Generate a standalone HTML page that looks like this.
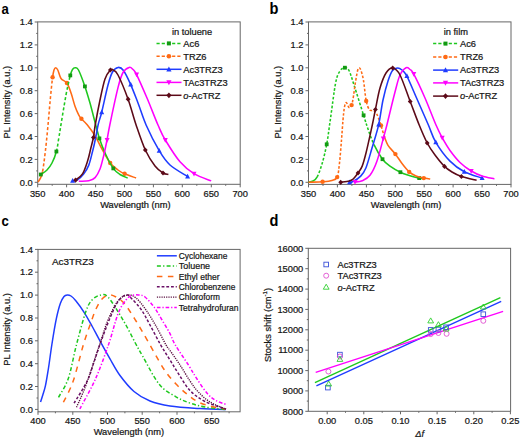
<!DOCTYPE html><html><head><meta charset="utf-8"><style>html,body{margin:0;padding:0;background:#fff;width:521px;height:439px;overflow:hidden}</style></head><body><svg width="521" height="439" viewBox="0 0 521 439" style="display:block;font-family:'Liberation Sans',sans-serif">
<style>text{stroke:#151515;stroke-width:0.22px;paint-order:normal}</style>
<rect width="521" height="439" fill="#fff"/>
<text transform="translate(1.6,14.1) scale(0.86,1)" font-size="15.3" font-weight="bold" fill="#000" style="stroke:none">a</text>
<text transform="translate(269.5,13.9) scale(0.88,1)" font-size="16.6" font-weight="bold" fill="#000" style="stroke:none">b</text>
<text transform="translate(1.5,226.3) scale(0.86,1)" font-size="15.3" font-weight="bold" fill="#000" style="stroke:none">c</text>
<text transform="translate(269.5,226.3) scale(0.88,1)" font-size="16.6" font-weight="bold" fill="#000" style="stroke:none">d</text>
<rect x="37.7" y="21.9" width="202.5" height="162.4" fill="none" stroke="#666" stroke-width="1"/>
<text x="32.7" y="185.5" font-size="9.3" text-anchor="end" fill="#151515" >0.0</text>
<text x="32.7" y="162.6" font-size="9.3" text-anchor="end" fill="#151515" >0.2</text>
<text x="32.7" y="139.7" font-size="9.3" text-anchor="end" fill="#151515" >0.4</text>
<text x="32.7" y="116.8" font-size="9.3" text-anchor="end" fill="#151515" >0.6</text>
<text x="32.7" y="93.9" font-size="9.3" text-anchor="end" fill="#151515" >0.8</text>
<text x="32.7" y="71" font-size="9.3" text-anchor="end" fill="#151515" >1.0</text>
<text x="32.7" y="48.1" font-size="9.3" text-anchor="end" fill="#151515" >1.2</text>
<text x="32.7" y="25.2" font-size="9.3" text-anchor="end" fill="#151515" >1.4</text>
<text x="37.7" y="196.8" font-size="9.3" text-anchor="middle" fill="#151515" >350</text>
<text x="66.6" y="196.8" font-size="9.3" text-anchor="middle" fill="#151515" >400</text>
<text x="95.6" y="196.8" font-size="9.3" text-anchor="middle" fill="#151515" >450</text>
<text x="124.5" y="196.8" font-size="9.3" text-anchor="middle" fill="#151515" >500</text>
<text x="153.4" y="196.8" font-size="9.3" text-anchor="middle" fill="#151515" >550</text>
<text x="182.3" y="196.8" font-size="9.3" text-anchor="middle" fill="#151515" >600</text>
<text x="211.3" y="196.8" font-size="9.3" text-anchor="middle" fill="#151515" >650</text>
<text x="240.2" y="196.8" font-size="9.3" text-anchor="middle" fill="#151515" >700</text>
<path d="M34.7,182.3H37.7 M36.2,170.9H37.7 M34.7,159.4H37.7 M36.2,147.9H37.7 M34.7,136.5H37.7 M36.2,125.1H37.7 M34.7,113.6H37.7 M36.2,102.2H37.7 M34.7,90.7H37.7 M36.2,79.3H37.7 M34.7,67.8H37.7 M36.2,56.3H37.7 M34.7,44.9H37.7 M36.2,33.4H37.7 M34.7,22H37.7 M37.7,184.3V187.3 M66.6,184.3V187.3 M95.6,184.3V187.3 M124.5,184.3V187.3 M153.4,184.3V187.3 M182.3,184.3V187.3 M211.3,184.3V187.3 M240.2,184.3V187.3 M52.2,184.3V185.8 M81.1,184.3V185.8 M110,184.3V185.8 M139,184.3V185.8 M167.9,184.3V185.8 M196.8,184.3V185.8 M225.7,184.3V185.8" stroke="#666" stroke-width="1" fill="none"/>
<text transform="translate(10.2,102.2) rotate(-90)" font-size="9.3" text-anchor="middle" fill="#151515">PL Intensity (a.u.)</text>
<text x="135.4" y="207.6" font-size="9.3" text-anchor="middle" fill="#151515" >Wavelength (nm)</text>
<path d="M38,182 C38.4,181.4 39.5,180.2 40.3,178.4 C41.1,176.7 41.7,176.2 42.6,171.5" stroke="#ff6a14" stroke-width="1.55" fill="none" stroke-linejoin="round"/>
<path d="M42.6,171.5 C43.5,166.8 44.5,158.5 45.5,150 C46.5,141.5 47.6,129.5 48.4,120.7 C49.2,111.9 49.8,104.2 50.5,97 C51.2,89.8 52,81.7 52.6,77.2" stroke="#ff6a14" stroke-width="1.55" fill="none" stroke-dasharray="3,2.2" stroke-linejoin="round"/>
<path d="M52.6,77.2 C53.2,72.7 53.5,71.6 54,70 C54.5,68.4 55.1,67.7 55.7,67.7 C56.3,67.7 56.9,68.2 57.8,70 C58.7,71.8 59.5,76.3 61,78.5 C62.5,80.7 65.2,80.5 66.9,83 C68.6,85.5 70,89.9 71.3,93.8 C72.6,97.7 73.8,102.8 75,106.3 C76.2,109.8 77.7,113 78.8,115.1 C79.9,117.2 80,117.2 81.4,118.8 C82.8,120.4 85,122 87.2,124.8 C89.4,127.6 92.3,131.4 94.8,135.4 C97.3,139.4 99.4,144.4 102,149 C104.6,153.6 107.5,159.5 110.2,163 C112.9,166.5 115.6,168.2 118,170 C120.4,171.8 121.6,172.5 124.6,173.8 C127.6,175.1 134.2,177.3 136.1,178" stroke="#ff6a14" stroke-width="1.55" fill="none" stroke-linejoin="round"/>
<circle cx="52.6" cy="77.2" r="2.2" fill="#ff6a14"/>
<circle cx="66.9" cy="83" r="2.2" fill="#ff6a14"/>
<circle cx="81.4" cy="118.8" r="2.2" fill="#ff6a14"/>
<circle cx="110.2" cy="163" r="2.2" fill="#ff6a14"/>
<circle cx="124.6" cy="173.8" r="2.2" fill="#ff6a14"/>
<path d="M40.8,174.5 C41.8,173.8 45.1,171.9 47,170 C48.9,168.1 50.4,166.1 52,163 C53.6,159.9 55.3,155.7 56.4,151.5" stroke="#1ec81e" stroke-width="1.55" fill="none" stroke-linejoin="round"/>
<path d="M56.4,151.5 C57.5,147.3 58,142.5 58.8,138 C59.6,133.5 59.8,131.7 61,124.5 C62.2,117.3 64.5,103.2 66,95 C67.5,86.8 69.2,79.7 70.3,75.4" stroke="#1ec81e" stroke-width="1.55" fill="none" stroke-dasharray="3,2.2" stroke-linejoin="round"/>
<path d="M70.3,75.4 C71.4,71.2 71.7,70.8 72.5,69.5 C73.3,68.2 74.3,67.6 75.3,67.7 C76.3,67.8 76.9,66.9 78.5,70 C80.1,73.1 83,80.9 84.9,86.4 C86.8,91.9 88.2,96.7 90,103 C91.8,109.3 94,118.6 95.6,124.5 C97.2,130.4 97.7,133.3 99.4,138.4 C101.1,143.5 103.7,150 106,155 C108.3,160 111,165.2 113.3,168.4 C115.6,171.7 117.6,172.9 120,174.5 C122.4,176.1 126.4,177.4 127.7,178" stroke="#1ec81e" stroke-width="1.55" fill="none" stroke-linejoin="round"/>
<rect x="38.9" y="172.6" width="3.8" height="3.8" fill="#129a12"/>
<rect x="54.5" y="149.6" width="3.8" height="3.8" fill="#129a12"/>
<rect x="68.4" y="73.5" width="3.8" height="3.8" fill="#129a12"/>
<rect x="83" y="84.5" width="3.8" height="3.8" fill="#129a12"/>
<rect x="97.5" y="136.5" width="3.8" height="3.8" fill="#129a12"/>
<rect x="111.4" y="166.5" width="3.8" height="3.8" fill="#129a12"/>
<path d="M72.6,180.8 C73.4,180.7 75.6,181.1 77.5,179.9 C79.4,178.8 81.9,176.4 83.8,173.9 C85.7,171.4 87.3,168.9 88.8,165.1 C90.3,161.3 91.4,155.9 92.6,151.3 C93.8,146.7 94.8,142.1 95.7,137.5 C96.7,132.9 97.3,128.2 98.3,124 C99.3,119.8 100.1,118.7 101.7,112.2 C103.3,105.7 106.2,91.7 108,85 C109.8,78.3 110.8,74.9 112.5,72 C114.2,69.1 116.3,67.7 118.1,67.4 C119.9,67.2 121.4,67.6 123.5,70.5 C125.6,73.4 128.3,79.2 130.7,84.6 C133.1,90 135.4,96.3 138,103 C140.6,109.7 142.6,117 146.1,125 C149.6,132.9 155.2,144 159.2,150.7 C163.2,157.4 165.3,160.7 170,165 C174.7,169.3 184.7,174.6 187.6,176.5" stroke="#1f3cff" stroke-width="1.55" fill="none" stroke-linejoin="round"/>
<path d="M72.6,177.9L75.1,182.7L70.1,182.7Z" fill="#1f3cff"/>
<path d="M101.7,109.5L104.2,114.2L99.2,114.2Z" fill="#1f3cff"/>
<path d="M130.7,81.8L133.2,86.6L128.2,86.6Z" fill="#1f3cff"/>
<path d="M159.2,147.9L161.7,152.7L156.7,152.7Z" fill="#1f3cff"/>
<path d="M187.6,173.8L190.1,178.5L185.1,178.5Z" fill="#1f3cff"/>
<path d="M78.8,181.2 C80.5,181.1 86.1,181.4 88.8,180.8 C91.5,180.2 93.2,179.6 95.1,177.6 C97,175.6 98.6,172.6 100.1,168.8 C101.5,165.1 102.6,159.9 103.8,155.1 C105,150.3 106,145 107,140 C108,135 108,133.7 109.8,125 C111.6,116.3 115.8,96.3 118,87.6 C120.2,78.8 121.1,75.9 123,72.5 C124.9,69.1 127.5,67.9 129.2,67.4 C130.9,66.9 131.8,68.3 133,69.5 C134.2,70.7 134.3,69.8 136.6,74.6 C138.9,79.3 143.4,89.6 147,98 C150.6,106.4 154.9,118 158,125 C161.1,132 161.6,133.9 165.3,140 C169,146.1 175.2,156.2 180,161.8 C184.8,167.4 188.8,170.5 194,173.7 C199.2,176.9 208.3,179.7 211.2,180.9" stroke="#ff00ff" stroke-width="1.55" fill="none" stroke-linejoin="round"/>
<path d="M107.1,142.8L109.6,138L104.6,138Z" fill="#ff00ff"/>
<path d="M136.6,77.3L139.1,72.6L134.1,72.6Z" fill="#ff00ff"/>
<path d="M165.3,142.8L167.8,138L162.8,138Z" fill="#ff00ff"/>
<path d="M194,176.4L196.5,171.7L191.5,171.7Z" fill="#ff00ff"/>
<path d="M75.6,180.1 C76.8,179.1 80.5,177 82.5,173.9 C84.5,170.8 86.1,165.5 87.5,161.3 C88.9,157.1 89.7,152.8 90.7,148.8 C91.7,144.8 92.6,141.6 93.4,137.5 C94.2,133.4 94.2,130.8 95.3,124.5 C96.4,118.2 98.4,107.6 100,100 C101.6,92.4 103.3,84 105,79 C106.7,74 109.1,71.5 110.4,70 C111.7,68.5 111.7,69 113,69.8 C114.3,70.6 115.5,70.1 118,75 C120.5,79.9 125.1,90.9 128.1,99.2 C131.1,107.5 133.2,116.5 136.1,125 C139,133.5 142.2,143.2 145.3,150 C148.5,156.8 152.1,162.2 155,166 C157.9,169.8 160.8,171.6 163,173 C165.2,174.4 167.5,174.2 168.4,174.5" stroke="#5c0a18" stroke-width="1.55" fill="none" stroke-linejoin="round"/>
<path d="M75.6,177.5L78,180.1L75.6,182.7L73.2,180.1Z" fill="#5c0a18"/>
<path d="M93.4,134.9L95.8,137.5L93.4,140.1L91,137.5Z" fill="#5c0a18"/>
<path d="M110.4,67.4L112.8,70L110.4,72.6L108,70Z" fill="#5c0a18"/>
<path d="M128.1,96.6L130.5,99.2L128.1,101.8L125.7,99.2Z" fill="#5c0a18"/>
<path d="M145.3,147.4L147.7,150L145.3,152.6L142.9,150Z" fill="#5c0a18"/>
<path d="M163,170.4L165.4,173L163,175.6L160.6,173Z" fill="#5c0a18"/>
<text x="171.9" y="34.6" font-size="9.3" text-anchor="start" fill="#151515" >in toluene</text>
<path d="M156.5,43.4H181.5" stroke="#1ec81e" stroke-width="1.5" stroke-dasharray="3.2,2"/>
<rect x="166.9" y="41.4" width="4" height="4" fill="#129a12"/>
<text x="183.3" y="46.7" font-size="9.3" text-anchor="start" fill="#151515" >Ac6</text>
<path d="M156.5,56.2H181.5" stroke="#ff6a14" stroke-width="1.5" stroke-dasharray="3.2,2"/>
<circle cx="168.9" cy="56.2" r="2.3" fill="#ff6a14"/>
<text x="183.3" y="59.5" font-size="9.3" text-anchor="start" fill="#151515" >TRZ6</text>
<path d="M156.5,69.3H181.5" stroke="#1f3cff" stroke-width="1.5"/>
<path d="M168.9,66.4L171.5,71.4L166.3,71.4Z" fill="#1f3cff"/>
<text x="183.3" y="72.6" font-size="9.3" text-anchor="start" fill="#151515" >Ac3TRZ3</text>
<path d="M156.5,82.4H181.5" stroke="#ff00ff" stroke-width="1.5"/>
<path d="M168.9,85.3L171.5,80.3L166.3,80.3Z" fill="#ff00ff"/>
<text x="183.3" y="85.7" font-size="9.3" text-anchor="start" fill="#151515" >TAc3TRZ3</text>
<path d="M156.5,95.3H181.5" stroke="#5c0a18" stroke-width="1.5"/>
<path d="M168.9,92.4L171.5,95.3L168.9,98.2L166.3,95.3Z" fill="#5c0a18"/>
<text x="183.3" y="98.6" font-size="9.3" fill="#151515"><tspan font-style="italic">o</tspan>-AcTRZ</text>
<rect x="308.5" y="21.9" width="202.5" height="162.5" fill="none" stroke="#666" stroke-width="1"/>
<text x="303.5" y="185.5" font-size="9.3" text-anchor="end" fill="#151515" >0.0</text>
<text x="303.5" y="162.6" font-size="9.3" text-anchor="end" fill="#151515" >0.2</text>
<text x="303.5" y="139.7" font-size="9.3" text-anchor="end" fill="#151515" >0.4</text>
<text x="303.5" y="116.8" font-size="9.3" text-anchor="end" fill="#151515" >0.6</text>
<text x="303.5" y="93.9" font-size="9.3" text-anchor="end" fill="#151515" >0.8</text>
<text x="303.5" y="71" font-size="9.3" text-anchor="end" fill="#151515" >1.0</text>
<text x="303.5" y="48.1" font-size="9.3" text-anchor="end" fill="#151515" >1.2</text>
<text x="303.5" y="25.2" font-size="9.3" text-anchor="end" fill="#151515" >1.4</text>
<text x="308.5" y="196.8" font-size="9.3" text-anchor="middle" fill="#151515" >350</text>
<text x="337.4" y="196.8" font-size="9.3" text-anchor="middle" fill="#151515" >400</text>
<text x="366.4" y="196.8" font-size="9.3" text-anchor="middle" fill="#151515" >450</text>
<text x="395.3" y="196.8" font-size="9.3" text-anchor="middle" fill="#151515" >500</text>
<text x="424.2" y="196.8" font-size="9.3" text-anchor="middle" fill="#151515" >550</text>
<text x="453.1" y="196.8" font-size="9.3" text-anchor="middle" fill="#151515" >600</text>
<text x="482.1" y="196.8" font-size="9.3" text-anchor="middle" fill="#151515" >650</text>
<text x="511" y="196.8" font-size="9.3" text-anchor="middle" fill="#151515" >700</text>
<path d="M305.5,182.3H308.5 M307,170.9H308.5 M305.5,159.4H308.5 M307,147.9H308.5 M305.5,136.5H308.5 M307,125.1H308.5 M305.5,113.6H308.5 M307,102.2H308.5 M305.5,90.7H308.5 M307,79.3H308.5 M305.5,67.8H308.5 M307,56.3H308.5 M305.5,44.9H308.5 M307,33.4H308.5 M305.5,22H308.5 M308.5,184.4V187.4 M337.4,184.4V187.4 M366.4,184.4V187.4 M395.3,184.4V187.4 M424.2,184.4V187.4 M453.1,184.4V187.4 M482.1,184.4V187.4 M511,184.4V187.4 M323,184.4V185.9 M351.9,184.4V185.9 M380.8,184.4V185.9 M409.8,184.4V185.9 M438.7,184.4V185.9 M467.6,184.4V185.9 M496.5,184.4V185.9" stroke="#666" stroke-width="1" fill="none"/>
<text transform="translate(280.9,102.2) rotate(-90)" font-size="9.3" text-anchor="middle" fill="#151515">PL Intensity (a.u.)</text>
<text x="406.1" y="207.8" font-size="9.3" text-anchor="middle" fill="#151515" >Wavelength (nm)</text>
<path d="M308.5,182.3 C309.2,182.1 311.6,181.9 313,181 C314.4,180.1 315.7,179.6 317.2,176.8" stroke="#1ec81e" stroke-width="1.55" fill="none" stroke-linejoin="round"/>
<path d="M317.2,176.8 C318.7,174 320.4,169.4 322,164 C323.6,158.6 325.3,151.7 326.7,144.3 C328.1,137 328.8,130.1 330.3,119.9 C331.8,109.7 334,91.2 335.6,83 C337.2,74.8 338.4,73.5 340,71 C341.6,68.5 343.4,67.8 344.9,67.7 C346.4,67.6 347.5,67.6 349,70.5 C350.5,73.4 351.7,77.8 354.1,85.3 C356.5,92.8 361.3,108 363.6,115.3 C365.9,122.6 366.3,124.1 368,129 C369.7,133.9 371.6,139.6 374,144.6" stroke="#1ec81e" stroke-width="1.55" fill="none" stroke-dasharray="2.6,1.8" stroke-linejoin="round"/>
<path d="M374,144.6 C376.4,149.6 379.8,155.6 382.5,159.2 C385.2,162.8 387,163.9 390,166.1 C393,168.3 397.1,170.6 400.4,172.2 C403.7,173.8 406.9,174.7 410,175.7 C413.1,176.7 417.1,177.6 419.2,178.1 C421.2,178.6 421.8,178.4 422.3,178.5" stroke="#1ec81e" stroke-width="1.55" fill="none" stroke-linejoin="round"/>
<rect x="324.8" y="142.4" width="3.8" height="3.8" fill="#129a12"/>
<rect x="343" y="65.8" width="3.8" height="3.8" fill="#129a12"/>
<rect x="361.7" y="113.4" width="3.8" height="3.8" fill="#129a12"/>
<rect x="380.6" y="157.3" width="3.8" height="3.8" fill="#129a12"/>
<rect x="398.5" y="170.3" width="3.8" height="3.8" fill="#129a12"/>
<rect x="417.3" y="176.2" width="3.8" height="3.8" fill="#129a12"/>
<path d="M308.5,182.2 C310.9,182.1 318.7,182.1 322.6,181.8 C326.5,181.5 329.6,181.3 332,180.5 C334.4,179.7 335.9,180 337.2,177.1" stroke="#ff6a14" stroke-width="1.55" fill="none" stroke-linejoin="round"/>
<path d="M337.2,177.1 C338.4,174.2 338.8,169.2 339.5,163 C340.2,156.8 340.9,147.2 341.5,140 C342.1,132.8 342.5,125.3 343,120 C343.5,114.7 343.8,110.9 344.3,108 C344.8,105.1 345.4,102.6 346.2,102.5 C347,102.4 348.1,107.1 349,107.5 C349.9,107.9 350.9,107 351.6,105.1 C352.4,103.2 352.9,99.7 353.5,96 C354.1,92.3 354.6,87.4 355.3,83.2 C356,79 356.9,73.5 357.5,71 C358.1,68.5 358.6,68.1 359.2,68 C359.8,67.9 360.3,68.4 361,70.5 C361.7,72.6 362.6,75.4 363.5,80.5 C364.4,85.6 365.2,96.1 366.2,101 C367.2,105.9 368.4,108.3 369.6,109.9 C370.9,111.5 372.5,109.7 373.7,110.5 C374.9,111.3 375.8,112 377,114.5 C378.2,117 379.8,121.7 381,125.4 C382.2,129.2 383.3,133.7 384.5,137" stroke="#ff6a14" stroke-width="1.55" fill="none" stroke-dasharray="2.6,1.8" stroke-linejoin="round"/>
<path d="M384.5,137 C385.7,140.3 386.2,142.5 388,145.3 C389.8,148.2 393.1,151.1 395.4,154.1 C397.7,157.1 399.7,160.5 402,163.5 C404.3,166.5 406.9,169.8 409.2,171.9 C411.5,174 413.6,175 416,176 C418.4,177 421.4,177.6 423.8,178.1 C426.2,178.6 429.1,178.9 430.2,179.1" stroke="#ff6a14" stroke-width="1.55" fill="none" stroke-linejoin="round"/>
<circle cx="322.6" cy="181.8" r="2.2" fill="#ff6a14"/>
<circle cx="337.2" cy="177.1" r="2.2" fill="#ff6a14"/>
<circle cx="351.6" cy="105.1" r="2.2" fill="#ff6a14"/>
<circle cx="366.2" cy="101" r="2.2" fill="#ff6a14"/>
<circle cx="381" cy="125.4" r="2.2" fill="#ff6a14"/>
<circle cx="395.4" cy="154.1" r="2.2" fill="#ff6a14"/>
<circle cx="409.2" cy="171.9" r="2.2" fill="#ff6a14"/>
<circle cx="423.8" cy="178.1" r="2.2" fill="#ff6a14"/>
<path d="M349.6,182.3 C350.2,182.2 351.1,182.5 353,181.5 C354.9,180.5 358.5,178.4 360.7,176.1 C362.9,173.8 364.1,172.4 366,167.7 C367.9,163 369.9,155.2 372,148 C374.1,140.8 376.9,132.6 378.7,124.6 C380.5,116.6 381.4,107.3 383,100 C384.6,92.7 386.4,85.9 388,81 C389.6,76.1 390.9,72.7 392.5,70.5 C394.1,68.3 396,68.1 397.6,68 C399.2,67.9 400.4,68.7 402,70 C403.6,71.3 404.4,71.3 406.9,76.1 C409.4,80.9 413.4,90.8 417,99 C420.6,107.2 425.3,117.8 428.4,125 C431.5,132.2 432.2,136.3 435.8,142.3 C439.4,148.3 445.2,156.2 450,161.1 C454.8,166 458.9,168.9 464.3,171.7 C469.7,174.5 479.1,177 482.1,178.1" stroke="#1f3cff" stroke-width="1.55" fill="none" stroke-linejoin="round"/>
<path d="M349.6,179.6L352.1,184.3L347.1,184.3Z" fill="#1f3cff"/>
<path d="M378.7,121.8L381.2,126.6L376.2,126.6Z" fill="#1f3cff"/>
<path d="M406.9,73.3L409.4,78.1L404.4,78.1Z" fill="#1f3cff"/>
<path d="M435.8,139.6L438.3,144.3L433.3,144.3Z" fill="#1f3cff"/>
<path d="M464.3,168.9L466.8,173.7L461.8,173.7Z" fill="#1f3cff"/>
<path d="M482.1,175.3L484.6,180.1L479.6,180.1Z" fill="#1f3cff"/>
<path d="M355,182 C356.2,181.8 359.7,181.8 362.2,180.7 C364.7,179.6 367.5,178.6 370,175.3 C372.5,172 374.8,167.2 377,161 C379.2,154.8 381.7,144.4 383.3,138.4 C384.9,132.4 384.9,132.7 386.9,125 C388.8,117.3 392.8,100.3 395,92 C397.2,83.7 398.1,79 400,75 C401.9,71 404.4,68.6 406.1,67.7 C407.8,66.8 408.7,68.4 410,69.5 C411.3,70.6 411.3,69.3 413.8,74.1 C416.3,78.8 421.3,89.5 425,98 C428.7,106.5 433.1,118.4 436,125 C438.9,131.6 439.9,133.4 442.2,137.7 C444.5,141.9 447,146.4 450,150.5 C453,154.6 456.5,159.1 460,162.5 C463.5,165.9 467.5,168.8 471.2,171 C474.9,173.2 478.1,174.7 482,176 C485.9,177.3 492.3,178.4 494.4,178.9" stroke="#ff00ff" stroke-width="1.55" fill="none" stroke-linejoin="round"/>
<path d="M355,184.8L357.5,180L352.5,180Z" fill="#ff00ff"/>
<path d="M383.3,141.2L385.8,136.4L380.8,136.4Z" fill="#ff00ff"/>
<path d="M413.8,76.8L416.3,72.1L411.3,72.1Z" fill="#ff00ff"/>
<path d="M442.2,140.4L444.7,135.7L439.7,135.7Z" fill="#ff00ff"/>
<path d="M471.2,173.8L473.7,169L468.7,169Z" fill="#ff00ff"/>
<path d="M340.7,182.3 C342.1,182.1 347.1,181.6 349.2,181.1 C351.2,180.6 351.5,180.5 353,179.2 C354.5,177.8 356.5,175.2 358,173 C359.5,170.8 360.9,169.4 362.2,166.1 C363.5,162.8 364.3,159.8 366,153 C367.7,146.2 370.7,132.2 372.3,125 C373.9,117.8 374.1,115.7 375.4,109.5 C376.7,103.3 378.2,94.1 380,88 C381.8,81.9 383.9,76.3 386,73 C388.1,69.7 390.4,67.7 392.7,68 C395,68.3 397.1,69.4 400,75 C402.9,80.6 407,93.2 410.2,101.5 C413.4,109.8 416.4,118.1 419.2,125 C422,131.9 424.6,138 427.2,143 C429.8,148 432.1,151.1 435,155 C437.9,158.9 441.7,163.6 444.5,166.4 C447.3,169.2 449.2,170.3 452,172 C454.8,173.7 457.3,175.1 461.4,176.5 C465.5,177.9 474.1,179.7 476.6,180.3" stroke="#5c0a18" stroke-width="1.55" fill="none" stroke-linejoin="round"/>
<path d="M340.7,179.7L343.1,182.3L340.7,184.9L338.3,182.3Z" fill="#5c0a18"/>
<path d="M358,170.4L360.4,173L358,175.6L355.6,173Z" fill="#5c0a18"/>
<path d="M375.4,106.9L377.8,109.5L375.4,112.1L373,109.5Z" fill="#5c0a18"/>
<path d="M392.7,65.4L395.1,68L392.7,70.6L390.3,68Z" fill="#5c0a18"/>
<path d="M410.2,98.9L412.6,101.5L410.2,104.1L407.8,101.5Z" fill="#5c0a18"/>
<path d="M427.2,140.4L429.6,143L427.2,145.6L424.8,143Z" fill="#5c0a18"/>
<path d="M444.5,163.8L446.9,166.4L444.5,169L442.1,166.4Z" fill="#5c0a18"/>
<path d="M461.4,173.9L463.8,176.5L461.4,179.1L459,176.5Z" fill="#5c0a18"/>
<text x="443.7" y="34.9" font-size="9.3" text-anchor="start" fill="#151515" >in film</text>
<path d="M433.1,43.6H458.2" stroke="#1ec81e" stroke-width="1.5" stroke-dasharray="3.2,2"/>
<rect x="443.5" y="41.6" width="4" height="4" fill="#129a12"/>
<text x="460" y="46.9" font-size="9.3" text-anchor="start" fill="#151515" >Ac6</text>
<path d="M433.1,57H458.2" stroke="#ff6a14" stroke-width="1.5" stroke-dasharray="3.2,2"/>
<circle cx="445.5" cy="57" r="2.3" fill="#ff6a14"/>
<text x="460" y="60.3" font-size="9.3" text-anchor="start" fill="#151515" >TRZ6</text>
<path d="M433.1,70.1H458.2" stroke="#1f3cff" stroke-width="1.5"/>
<path d="M445.5,67.2L448.1,72.2L442.9,72.2Z" fill="#1f3cff"/>
<text x="460" y="73.4" font-size="9.3" text-anchor="start" fill="#151515" >Ac3TRZ3</text>
<path d="M433.1,82.9H458.2" stroke="#ff00ff" stroke-width="1.5"/>
<path d="M445.5,85.8L448.1,80.8L442.9,80.8Z" fill="#ff00ff"/>
<text x="460" y="86.2" font-size="9.3" text-anchor="start" fill="#151515" >TAc3TRZ3</text>
<path d="M433.1,96.1H458.2" stroke="#5c0a18" stroke-width="1.5"/>
<path d="M445.5,93.2L448.1,96.1L445.5,99L442.9,96.1Z" fill="#5c0a18"/>
<text x="460" y="99.4" font-size="9.3" fill="#151515"><tspan font-style="italic">o</tspan>-AcTRZ</text>
<rect x="38" y="249.4" width="202.1" height="162.4" fill="none" stroke="#666" stroke-width="1"/>
<text x="33" y="412.6" font-size="9.3" text-anchor="end" fill="#151515" >0.0</text>
<text x="33" y="389.7" font-size="9.3" text-anchor="end" fill="#151515" >0.2</text>
<text x="33" y="366.9" font-size="9.3" text-anchor="end" fill="#151515" >0.4</text>
<text x="33" y="344" font-size="9.3" text-anchor="end" fill="#151515" >0.6</text>
<text x="33" y="321.2" font-size="9.3" text-anchor="end" fill="#151515" >0.8</text>
<text x="33" y="298.3" font-size="9.3" text-anchor="end" fill="#151515" >1.0</text>
<text x="33" y="275.4" font-size="9.3" text-anchor="end" fill="#151515" >1.2</text>
<text x="33" y="252.6" font-size="9.3" text-anchor="end" fill="#151515" >1.4</text>
<text x="38" y="424.2" font-size="9.3" text-anchor="middle" fill="#151515" >400</text>
<text x="72.8" y="424.2" font-size="9.3" text-anchor="middle" fill="#151515" >450</text>
<text x="107.5" y="424.2" font-size="9.3" text-anchor="middle" fill="#151515" >500</text>
<text x="142.2" y="424.2" font-size="9.3" text-anchor="middle" fill="#151515" >550</text>
<text x="177" y="424.2" font-size="9.3" text-anchor="middle" fill="#151515" >600</text>
<text x="211.8" y="424.2" font-size="9.3" text-anchor="middle" fill="#151515" >650</text>
<path d="M35,409.4H38 M36.5,398H38 M35,386.5H38 M36.5,375.1H38 M35,363.7H38 M36.5,352.2H38 M35,340.8H38 M36.5,329.4H38 M35,318H38 M36.5,306.5H38 M35,295.1H38 M36.5,283.7H38 M35,272.2H38 M36.5,260.8H38 M35,249.4H38 M38,411.8V414.8 M72.8,411.8V414.8 M107.5,411.8V414.8 M142.2,411.8V414.8 M177,411.8V414.8 M211.8,411.8V414.8 M55.4,411.8V413.3 M90.1,411.8V413.3 M124.9,411.8V413.3 M159.6,411.8V413.3 M194.4,411.8V413.3 M229.1,411.8V413.3" stroke="#666" stroke-width="1" fill="none"/>
<text transform="translate(10.2,329.5) rotate(-90)" font-size="9.3" text-anchor="middle" fill="#151515">PL Intensity (a.u.)</text>
<text x="128.9" y="435" font-size="9.3" text-anchor="middle" fill="#151515" >Wavelength (nm)</text>
<text x="52" y="265.3" font-size="9.9" text-anchor="start" fill="#151515" >Ac3TRZ3</text>
<path d="M40.5,402 C40.9,400.8 42,397.7 42.8,395 C43.6,392.3 44.4,390.4 45.4,385.9 C46.4,381.4 47.4,374.8 48.5,368 C49.6,361.2 50.5,353.3 51.8,345 C53.1,336.7 54.9,325.4 56.4,318.4 C57.9,311.4 59.2,306.6 60.5,303 C61.8,299.4 62.9,297.9 64,296.5 C65.1,295.1 66,295 67.2,294.9 C68.4,294.8 69.5,295 71,296 C72.5,297 73.8,298.3 76,301 C78.2,303.7 81.4,308.1 84.1,312.3 C86.8,316.5 89.3,321.1 92,326 C94.7,330.9 97.2,335.9 100.2,341.4 C103.2,346.9 106.7,353.2 110,358.9 C113.3,364.6 116,370.1 120,375.5 C124,380.9 129,387.2 134,391.5 C139,395.8 144,398.6 150,401 C156,403.4 161.7,404.7 170,406 C178.3,407.3 190.7,408 200,408.6 C209.3,409.2 221.7,409.4 226,409.5" stroke="#1f3cff" stroke-width="1.5" fill="none" stroke-linejoin="round"/>
<path d="M58.5,397.4 C60.1,394.2 65.3,387.2 68.3,378.5 C71.3,369.8 73.5,356 76.4,345 C79.3,334 83,319.8 85.6,312.3 C88.2,304.8 89.4,302.9 92,300 C94.6,297.1 98.3,295.4 101,294.9 C103.7,294.4 105.1,294.1 108,297 C110.9,299.9 115.2,307.3 118.4,312.3 C121.6,317.3 124.2,321.9 127,327 C129.8,332.1 132.7,338.1 135.3,343 C137.9,347.9 138.8,349.5 142.8,356.4 C146.8,363.3 153.7,377.6 159.2,384.3 C164.7,391 170.5,393.5 175.6,396.6 C180.7,399.7 185.1,401.4 190,403.1 C194.9,404.8 199,405.9 205,407 C211,408.1 222.5,409.1 226,409.5" stroke="#1ec81e" stroke-width="1.5" fill="none" stroke-dasharray="4,2.2,1.3,2.2" stroke-linejoin="round"/>
<path d="M63.4,402.3 C65,398.8 69.9,390.6 73.2,381 C76.5,371.4 80.5,354.4 83.3,345 C86.1,335.6 88.1,330.5 90.2,324.5 C92.3,318.5 94,313.4 96,309 C98,304.6 100.2,300.8 102.5,298.4 C104.8,296 107.8,295.1 110,294.9 C112.2,294.7 113.6,295.5 116,297 C118.4,298.5 121.3,299.8 124.6,303.8 C127.9,307.8 132,314.6 136,321 C140,327.4 143.7,334.1 148.4,342.2 C153.1,350.3 159.5,362.5 164.1,369.5 C168.7,376.5 172.2,379.9 176,384 C179.8,388.1 183.3,391.1 187,394.1 C190.7,397.1 193.8,399.8 198,401.9 C202.2,404 207.3,405.3 212,406.5 C216.7,407.7 223.7,408.6 226,409" stroke="#ff6a14" stroke-width="1.5" fill="none" stroke-dasharray="5.5,5.5" stroke-linejoin="round"/>
<path d="M74.1,403.1 C76.3,399.4 83.9,387.9 87.2,381 C90.5,374.1 91.7,368.6 94,362 C96.3,355.4 98.3,348.7 101,341.4 C103.7,334.1 107.2,324.6 110,318 C112.8,311.4 115.3,305.4 118,301.5 C120.7,297.6 123.8,295.3 126.1,294.9 C128.4,294.5 129.4,296.5 132,299 C134.6,301.5 138.5,305.7 141.5,310 C144.5,314.3 146.8,319.2 150,325 C153.2,330.8 157.4,339.2 160.7,345 C164,350.8 167,355.1 170,360 C173,364.9 175.6,369.3 178.9,374.4 C182.2,379.5 185.7,386 190,390.5 C194.3,395 199,398.4 205,401.5 C211,404.6 222.5,407.8 226,409" stroke="#6a1066" stroke-width="1.5" fill="none" stroke-dasharray="2.8,1.9" stroke-linejoin="round"/>
<path d="M76.5,407.2 C78.1,403.5 82.2,395.4 86,385 C89.8,374.6 95.8,355.8 99.5,345 C103.2,334.2 104.9,327.3 108,320 C111.1,312.7 114.7,305.2 118,301 C121.3,296.8 124.6,295.5 127.6,295 C130.6,294.5 132.9,295.5 136,298 C139.1,300.5 142.7,305.3 146,310 C149.3,314.7 152.7,320.2 156,326 C159.3,331.8 163.7,340.9 166,345 C168.3,349.1 167.7,347.2 170,350.5 C172.3,353.8 176.7,359.9 180,365 C183.3,370.1 187,376.6 190,381 C193,385.4 194.7,388.1 198,391.6 C201.3,395.1 205.3,399.1 210,402 C214.7,404.9 223.3,408.1 226,409.3" stroke="#5a1040" stroke-width="1.4" fill="none" stroke-dasharray="1.2,1.1" stroke-linejoin="round"/>
<path d="M79.8,408.9 C82.3,404.1 90.2,390.6 95,380 C99.8,369.4 104.6,356 108.4,345 C112.2,334 115.1,321.3 118,313.8 C120.9,306.3 123.7,303.1 126,300 C128.3,296.9 129.9,296.3 132,295.5 C134.1,294.7 136.2,294.8 138.4,295 C140.6,295.2 142.3,294.9 145,297 C147.7,299.1 151.7,303.8 154.5,307.6 C157.3,311.4 159.4,315.6 162,320 C164.6,324.4 167.8,329.5 170,333.7 C172.2,337.9 172.2,339.7 175.3,345 C178.4,350.3 185.1,359.8 188.7,365.5 C192.3,371.2 193.9,374.3 197,379 C200.1,383.7 204.1,389.9 207.3,393.5 C210.5,397.1 212.7,398.6 216,400.5 C219.3,402.4 225.1,404 226.9,404.7" stroke="#ff00ff" stroke-width="1.5" fill="none" stroke-dasharray="3.6,1.9,1.3,1.9" stroke-linejoin="round"/>
<path d="M156.9,255.8H176.8" stroke="#1f3cff" stroke-width="1.5"/>
<text x="178.8" y="259.1" font-size="9" text-anchor="start" fill="#151515" textLength="48.5" lengthAdjust="spacingAndGlyphs">Cyclohexane</text>
<path d="M156.9,265.9H176.8" stroke="#1ec81e" stroke-width="1.5" stroke-dasharray="4,2.2,1.3,2.2"/>
<text x="178.8" y="269.2" font-size="9" text-anchor="start" fill="#151515" textLength="31.3" lengthAdjust="spacingAndGlyphs">Toluene</text>
<path d="M156.9,276.4H176.8" stroke="#ff6a14" stroke-width="1.5" stroke-dasharray="5.5,5.5"/>
<text x="178.8" y="279.7" font-size="9" text-anchor="start" fill="#151515" textLength="40.8" lengthAdjust="spacingAndGlyphs">Ethyl ether</text>
<path d="M156.9,286.8H176.8" stroke="#6a1066" stroke-width="1.5" stroke-dasharray="2.8,1.9"/>
<text x="178.8" y="290.1" font-size="9" text-anchor="start" fill="#151515" textLength="56.5" lengthAdjust="spacingAndGlyphs">Chlorobenzene</text>
<path d="M156.9,297.1H176.8" stroke="#5a1040" stroke-width="1.4" stroke-dasharray="1.2,1.1"/>
<text x="178.8" y="300.4" font-size="9" text-anchor="start" fill="#151515" textLength="41.0" lengthAdjust="spacingAndGlyphs">Chloroform</text>
<path d="M156.9,307.5H176.8" stroke="#ff00ff" stroke-width="1.5" stroke-dasharray="3.6,1.9,1.3,1.9"/>
<text x="178.8" y="310.8" font-size="9" text-anchor="start" fill="#151515" textLength="59.8" lengthAdjust="spacingAndGlyphs">Tetrahydrofuran</text>
<rect x="308.3" y="248.3" width="202.3" height="163" fill="none" stroke="#666" stroke-width="1"/>
<text x="303.3" y="414.5" font-size="9.3" text-anchor="end" fill="#151515" >8000</text>
<text x="303.3" y="394.1" font-size="9.3" text-anchor="end" fill="#151515" >9000</text>
<text x="303.3" y="373.8" font-size="9.3" text-anchor="end" fill="#151515" >10000</text>
<text x="303.3" y="353.4" font-size="9.3" text-anchor="end" fill="#151515" >11000</text>
<text x="303.3" y="333" font-size="9.3" text-anchor="end" fill="#151515" >12000</text>
<text x="303.3" y="312.6" font-size="9.3" text-anchor="end" fill="#151515" >13000</text>
<text x="303.3" y="292.2" font-size="9.3" text-anchor="end" fill="#151515" >14000</text>
<text x="303.3" y="271.9" font-size="9.3" text-anchor="end" fill="#151515" >15000</text>
<text x="303.3" y="251.5" font-size="9.3" text-anchor="end" fill="#151515" >16000</text>
<text x="327.2" y="424.2" font-size="9.3" text-anchor="middle" fill="#151515" >0.00</text>
<text x="363.8" y="424.2" font-size="9.3" text-anchor="middle" fill="#151515" >0.05</text>
<text x="400.5" y="424.2" font-size="9.3" text-anchor="middle" fill="#151515" >0.10</text>
<text x="437.1" y="424.2" font-size="9.3" text-anchor="middle" fill="#151515" >0.15</text>
<text x="473.8" y="424.2" font-size="9.3" text-anchor="middle" fill="#151515" >0.20</text>
<text x="510.4" y="424.2" font-size="9.3" text-anchor="middle" fill="#151515" >0.25</text>
<path d="M305.3,411.3H308.3 M306.8,401.1H308.3 M305.3,390.9H308.3 M306.8,380.7H308.3 M305.3,370.6H308.3 M306.8,360.4H308.3 M305.3,350.2H308.3 M306.8,340H308.3 M305.3,329.8H308.3 M306.8,319.6H308.3 M305.3,309.4H308.3 M306.8,299.2H308.3 M305.3,289.1H308.3 M306.8,278.9H308.3 M305.3,268.7H308.3 M306.8,258.5H308.3 M305.3,248.3H308.3 M327.2,411.3V414.3 M363.8,411.3V414.3 M400.5,411.3V414.3 M437.1,411.3V414.3 M473.8,411.3V414.3 M510.4,411.3V414.3 M345.5,411.3V412.8 M382.2,411.3V412.8 M418.8,411.3V412.8 M455.5,411.3V412.8 M492.1,411.3V412.8" stroke="#666" stroke-width="1" fill="none"/>
<text transform="translate(270.6,325.0) rotate(-90)" font-size="9.3" text-anchor="middle" fill="#151515">Stocks shift (cm<tspan font-size="6" dy="-3.5">-1</tspan><tspan dy="3.5">)</tspan></text>
<text x="419.6" y="436.5" font-size="9.3" text-anchor="middle" font-style="italic" fill="#151515">&#916;f</text>
<path d="M314.9,382.7L500.4,297.7" stroke="#1ec81e" stroke-width="1.4"/>
<path d="M316.4,385.8L501.2,301.4" stroke="#1f3cff" stroke-width="1.4"/>
<path d="M315.7,372.3L503.1,311.3" stroke="#ff00ff" stroke-width="1.4"/>
<rect x="325.6" y="385.3" width="4.6" height="4.6" fill="none" stroke="#3a4fd8" stroke-width="0.9"/>
<rect x="337.6" y="352.3" width="4.6" height="4.6" fill="none" stroke="#3a4fd8" stroke-width="0.9"/>
<rect x="428.4" y="327.6" width="4.6" height="4.6" fill="none" stroke="#3a4fd8" stroke-width="0.9"/>
<rect x="436.1" y="327.2" width="4.6" height="4.6" fill="none" stroke="#3a4fd8" stroke-width="0.9"/>
<rect x="443.8" y="325" width="4.6" height="4.6" fill="none" stroke="#3a4fd8" stroke-width="0.9"/>
<rect x="481" y="311.9" width="4.6" height="4.6" fill="none" stroke="#3a4fd8" stroke-width="0.9"/>
<circle cx="328.4" cy="371.5" r="2.5" fill="none" stroke="#e050d0" stroke-width="0.9"/>
<circle cx="339.9" cy="356.5" r="2.5" fill="none" stroke="#e050d0" stroke-width="0.9"/>
<circle cx="430.7" cy="334.1" r="2.5" fill="none" stroke="#e050d0" stroke-width="0.9"/>
<circle cx="438.4" cy="333" r="2.5" fill="none" stroke="#e050d0" stroke-width="0.9"/>
<circle cx="446.6" cy="333.8" r="2.5" fill="none" stroke="#e050d0" stroke-width="0.9"/>
<circle cx="483.3" cy="320.8" r="2.5" fill="none" stroke="#e050d0" stroke-width="0.9"/>
<path d="M328.7,381L331.6,386L325.8,386Z" fill="none" stroke="#30d030" stroke-width="0.9"/>
<path d="M339.9,356.4L342.8,361.4L337,361.4Z" fill="none" stroke="#30d030" stroke-width="0.9"/>
<path d="M430.7,317.9L433.6,322.9L427.8,322.9Z" fill="none" stroke="#30d030" stroke-width="0.9"/>
<path d="M438.4,321.7L441.3,326.7L435.5,326.7Z" fill="none" stroke="#30d030" stroke-width="0.9"/>
<path d="M446.1,326L449,331L443.2,331Z" fill="none" stroke="#30d030" stroke-width="0.9"/>
<path d="M483.3,304L486.2,309L480.4,309Z" fill="none" stroke="#30d030" stroke-width="0.9"/>
<rect x="323.9" y="262.2" width="4.6" height="4.6" fill="none" stroke="#3a4fd8" stroke-width="0.9"/>
<circle cx="326.2" cy="275.7" r="2.5" fill="none" stroke="#e050d0" stroke-width="0.9"/>
<path d="M326.2,284.2L329.1,289.2L323.3,289.2Z" fill="none" stroke="#30d030" stroke-width="0.9"/>
<text x="337.5" y="268" font-size="9.3" text-anchor="start" fill="#151515" >Ac3TRZ3</text>
<text x="337.5" y="279.2" font-size="9.3" text-anchor="start" fill="#151515" >TAc3TRZ3</text>
<text x="337.5" y="290.5" font-size="9.3" fill="#151515"><tspan font-style="italic">o</tspan>-AcTRZ</text>
</svg></body></html>
